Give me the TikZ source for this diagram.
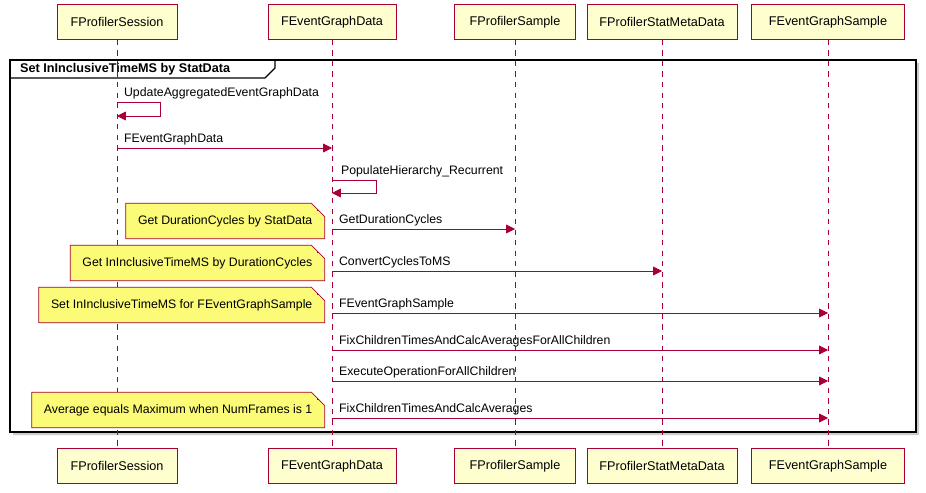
\documentclass[tikz,border=0pt]{standalone}
\usepackage{fontspec}
\setmainfont{Liberation Sans}
\usetikzlibrary{arrows.meta, positioning, calc, shapes.misc}
\definecolor{umlred}{HTML}{A80036}
\definecolor{partfill}{HTML}{FEFECE}
\definecolor{notefill}{HTML}{FBFB77}
\tikzset{
  part/.style = {rectangle, draw=umlred, fill=partfill, minimum height=0.7cm, inner xsep=4pt, font=\fontsize{7.2}{8}\selectfont},
  note/.style = {chamfered rectangle, chamfered rectangle corners=north east, chamfered rectangle xsep=4pt,
    draw=umlred, fill=notefill, minimum height=0.58cm, inner xsep=3pt, font=\fontsize{7}{8}\selectfont,
    path picture={\draw[umlred] ($(path picture bounding box.north east)+(-4pt,0)$) |- ++(4pt,-4pt);}},
  msg/.style = {draw=umlred, -{Triangle[length=5pt,width=5pt]}},
  lbl/.style = {anchor=south west, inner sep=1pt, font=\fontsize{7}{8}\selectfont},
  life/.style = {draw=umlred, dashed, dash pattern=on 3pt off 3pt}
}
\begin{document}
\begin{tikzpicture}[x=0.02cm, y=-0.02cm]
  \useasboundingbox (0,0) rectangle (926,493);
  % group frame
  \fill[gray!40] (916,63) rectangle (919,435) (13,432) rectangle (919,435);
  \draw[line width=1.2pt] (10,60) rectangle (916,432);
  \draw[line width=0.8pt] (10,78) -- (265,78) -- (275,68) -- (275,60);
  \node[anchor=west, font=\bfseries\fontsize{7.2}{8}\selectfont] (grp) at (14,69) {Set InInclusiveTimeMS by StatData};

  % participants
  \node[part, minimum width=2.4cm] (ps) at (117,22) {FProfilerSession};
  \node[part, minimum width=2.56cm] (eg) at (332,22) {FEventGraphData};
  \node[part, minimum width=2.42cm] (sa) at (515,22) {FProfilerSample};
  \node[part, minimum width=3cm] (md) at (662,22) {FProfilerStatMetaData};
  \node[part, minimum width=3.06cm] (es) at (828,22) {FEventGraphSample};
  \node[part, minimum width=2.4cm] (ps2) at (117,466) {FProfilerSession};
  \node[part, minimum width=2.56cm] (eg2) at (332,466) {FEventGraphData};
  \node[part, minimum width=2.42cm] (sa2) at (515,466) {FProfilerSample};
  \node[part, minimum width=3cm] (md2) at (662,466) {FProfilerStatMetaData};
  \node[part, minimum width=3.06cm] (es2) at (828,466) {FEventGraphSample};
  \foreach \a/\b in {ps/ps2, eg/eg2, sa/sa2, md/md2, es/es2}
    \draw[life] (\a) -- (\b);

  % self messages
  \coordinate (u1) at (117,102); \coordinate (u2) at (160,102);
  \coordinate (u3) at (160,116); \coordinate (u4) at (117,116);
  \draw[msg] (u1) -- (u2) -- (u3) -- (u4);
  \node[lbl] at (122,101) {UpdateAggregatedEventGraphData};
  \coordinate (p1) at (332,180); \coordinate (p2) at (376,180);
  \coordinate (p3) at (376,193); \coordinate (p4) at (332,193);
  \draw[msg] (p1) -- (p2) -- (p3) -- (p4);
  \node[lbl] at (339,179) {PopulateHierarchy\_Recurrent};

  % messages
  \foreach \y/\fx/\tx/\txt in {
      148/117/332/FEventGraphData,
      229/332/515/GetDurationCycles,
      271/332/662/ConvertCyclesToMS,
      313/332/828/FEventGraphSample,
      350/332/828/FixChildrenTimesAndCalcAveragesForAllChildren,
      381/332/828/ExecuteOperationForAllChildren,
      418/332/828/FixChildrenTimesAndCalcAverages} {
    \coordinate (m1) at (\fx,\y);
    \coordinate (m2) at (\tx,\y);
    \draw[msg] (m1) -- (m2);
    \node[lbl] at ($(m1)+(5,-1)$) {\txt};
  }

  % notes
  \node[note, anchor=east] (n1) at (325,221) {Get DurationCycles by StatData};
  \node[note, anchor=east] (n2) at (325,263) {Get InInclusiveTimeMS by DurationCycles};
  \node[note, anchor=east] (n3) at (325,305) {Set InInclusiveTimeMS for FEventGraphSample};
  \node[note, anchor=east] (n4) at (325,410) {Average equals Maximum when NumFrames is 1};
\end{tikzpicture}
\end{document}
